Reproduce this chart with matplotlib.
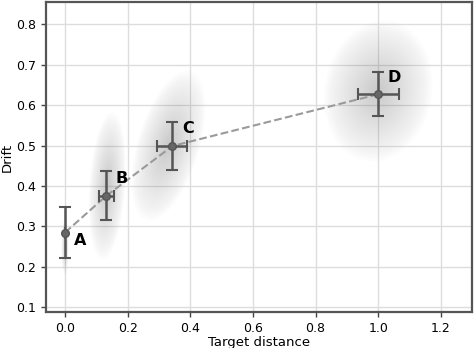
import matplotlib
matplotlib.use("Agg")
import numpy as np
import matplotlib.pyplot as plt
from matplotlib.patches import Polygon

# group means with their spreads
labels = ["A", "B", "C", "D"]
dist = [0.0, 0.132, 0.343, 1.0]
drift = [0.285, 0.376, 0.499, 0.627]
dist_err = [0.0, 0.024, 0.048, 0.065]
drift_err = [0.063, 0.061, 0.059, 0.054]

# sample clouds: centre, sd along x and y, correlation
cloud_x = [0.0, 0.135, 0.33, 1.0]
cloud_y = [0.25, 0.40, 0.50, 0.635]
cloud_sx = [0.004, 0.021, 0.042, 0.062]
cloud_sy = [0.025, 0.065, 0.066, 0.062]
cloud_rho = [0.0, 0.25, 0.5, 0.1]

# label offsets (data units)
lab_dx = [0.048, 0.048, 0.049, 0.051]
lab_dy = [-0.02, 0.042, 0.043, 0.041]

fig = plt.figure(figsize=(4.74, 3.48), dpi=100)
ax = fig.add_axes([0.097, 0.103, 0.899, 0.891])

# shade each cloud as a soft density blob made of nested covariance ellipses
th = np.linspace(0, 2 * np.pi, 80)
circ = np.vstack([np.cos(th), np.sin(th)])
for cx, cy, sx, sy, r in zip(cloud_x, cloud_y, cloud_sx, cloud_sy, cloud_rho):
    cov = np.array([[sx * sx, r * sx * sy], [r * sx * sy, sy * sy]])
    L = np.linalg.cholesky(cov)
    for k in np.linspace(0.2, 2.8, 24):
        pts = (L @ circ) * k
        ax.add_patch(Polygon(np.column_stack([pts[0] + cx, pts[1] + cy]),
                             closed=True, facecolor="#8f8f8f", edgecolor="none",
                             alpha=0.02, zorder=1))

ax.plot(dist, drift, "--", color="#9a9a9a", lw=1.5, zorder=2)
ax.errorbar(dist, drift, xerr=dist_err, yerr=drift_err, fmt="o",
            color="#555555", ecolor="#555555", elinewidth=1.8, capsize=4,
            capthick=1.5, ms=5.5, mfc="#666666", mec="#555555", zorder=3)

for lab, x, y, dx, dy in zip(labels, dist, drift, lab_dx, lab_dy):
    ax.text(x + dx, y + dy, lab, fontsize=11.5, fontweight="bold",
            va="center", ha="center", zorder=4)

ax.set_xlim(-0.061, 1.30)
ax.set_ylim(0.088, 0.855)
ax.set_xticks([0.0, 0.2, 0.4, 0.6, 0.8, 1.0, 1.2])
ax.set_yticks([0.1, 0.2, 0.3, 0.4, 0.5, 0.6, 0.7, 0.8])
ax.grid(True, color="#dddddd", lw=1)
ax.set_axisbelow(True)
ax.tick_params(labelsize=9, color="#444444", width=1, length=3.5)
for s in ax.spines.values():
    s.set_color("#555555")
    s.set_linewidth(1.6)
ax.set_xlabel("Target distance", fontsize=9.5, labelpad=0.5)
ax.set_ylabel("Drift", fontsize=9.5, labelpad=1.5)

fig.savefig("out.png", dpi=100)
